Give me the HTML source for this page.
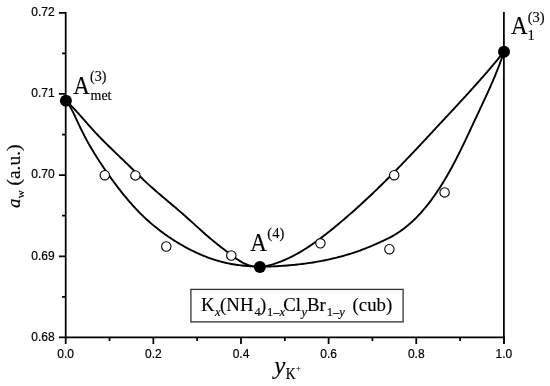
<!DOCTYPE html>
<html><head><meta charset="utf-8"><style>
html,body{margin:0;padding:0;background:#fff;}
body{width:550px;height:386px;overflow:hidden;}
svg{display:block;}
.sans{font-family:"Liberation Sans",Arial,sans-serif;font-size:12px;fill:#000;stroke:#000;stroke-width:0.2px;}
.serif{font-family:"Liberation Serif","Times New Roman",serif;fill:#000;stroke:#000;stroke-width:0.15px;}
</style></head><body>
<svg width="550" height="386" viewBox="0 0 550 386">
<rect width="550" height="386" fill="#fff"/>
<g fill="none" stroke="#000" stroke-width="1.75">
<path d="M65.70,12.00 V338.20"/>
<path d="M64.90,337.40 H504.70"/>
<path d="M503.90,12.00 V344.00"/>
<path d="M58.90,337.40 H65.70 M58.90,256.25 H65.70 M58.90,175.10 H65.70 M58.90,93.95 H65.70 M58.90,12.80 H65.70 M62.10,296.82 H65.70 M62.10,215.67 H65.70 M62.10,134.52 H65.70 M62.10,53.37 H65.70 M65.70,337.40 V344.00 M153.34,337.40 V344.00 M240.98,337.40 V344.00 M328.62,337.40 V344.00 M416.26,337.40 V344.00 M503.90,337.40 V344.00 M109.52,337.40 V341.00 M197.16,337.40 V341.00 M284.80,337.40 V341.00 M372.44,337.40 V341.00 M460.08,337.40 V341.00"/>
</g>
<g fill="none" stroke="#000" stroke-width="1.9" stroke-linejoin="round">
<path d="M65.90,100.70 L66.87,101.95 L67.80,103.22 L68.69,104.52 L69.53,105.84 L70.34,107.18 L71.11,108.54 L71.86,109.91 L72.58,111.29 L73.28,112.69 L73.97,114.09 L74.64,115.50 L75.30,116.91 L75.95,118.33 L76.61,119.75 L77.26,121.17 L77.92,122.58 L78.58,124.00 L79.25,125.41 L79.92,126.81 L80.60,128.22 L81.28,129.62 L81.97,131.02 L82.67,132.41 L83.37,133.80 L84.08,135.19 L84.80,136.58 L85.53,137.96 L86.27,139.34 L87.01,140.72 L87.77,142.09 L88.53,143.46 L89.31,144.82 L90.09,146.18 L90.88,147.54 L91.68,148.89 L92.48,150.24 L93.29,151.59 L94.11,152.93 L94.94,154.27 L95.77,155.60 L96.61,156.93 L97.45,158.26 L98.30,159.58 L99.15,160.90 L100.01,162.21 L100.87,163.52 L101.74,164.82 L102.61,166.12 L103.48,167.42 L104.36,168.71 L105.24,170.00 L106.13,171.28 L107.02,172.56 L107.91,173.83 L108.81,175.10 L109.71,176.37 L110.62,177.64 L111.53,178.90 L112.45,180.16 L113.37,181.41 L114.30,182.67 L115.23,183.92 L116.17,185.16 L117.12,186.41 L118.07,187.65 L119.03,188.89 L119.99,190.13 L120.96,191.36 L121.94,192.60 L122.92,193.82 L123.91,195.05 L124.91,196.27 L125.91,197.48 L126.92,198.69 L127.94,199.90 L128.96,201.10 L129.99,202.29 L131.03,203.48 L132.08,204.66 L133.13,205.83 L134.19,206.99 L135.26,208.15 L136.34,209.30 L137.42,210.44 L138.51,211.57 L139.61,212.69 L140.72,213.80 L141.83,214.91 L142.96,216.00 L144.09,217.08 L145.23,218.15 L146.38,219.22 L147.53,220.27 L148.69,221.31 L149.87,222.34 L151.05,223.36 L152.23,224.38 L153.43,225.38 L154.63,226.37 L155.84,227.36 L157.06,228.33 L158.29,229.29 L159.52,230.25 L160.76,231.19 L162.01,232.13 L163.27,233.05 L164.54,233.97 L165.81,234.87 L167.09,235.77 L168.38,236.66 L169.67,237.53 L170.98,238.40 L172.29,239.26 L173.61,240.11 L174.93,240.95 L176.27,241.78 L177.61,242.60 L178.96,243.41 L180.31,244.21 L181.68,245.01 L183.05,245.79 L184.43,246.56 L185.81,247.32 L187.20,248.08 L188.60,248.82 L190.01,249.54 L191.42,250.26 L192.84,250.97 L194.26,251.66 L195.69,252.34 L197.13,253.01 L198.57,253.66 L200.02,254.30 L201.47,254.93 L202.93,255.54 L204.39,256.13 L205.86,256.71 L207.34,257.28 L208.82,257.83 L210.30,258.36 L211.79,258.88 L213.28,259.38 L214.78,259.87 L216.28,260.33 L217.78,260.78 L219.29,261.21 L220.80,261.62 L222.32,262.01 L223.83,262.39 L225.36,262.74 L226.88,263.08 L228.41,263.40 L229.94,263.70 L231.48,263.99 L233.01,264.26 L234.55,264.51 L236.10,264.74 L237.64,264.96 L239.19,265.17 L240.74,265.36 L242.29,265.53 L243.85,265.69 L245.40,265.84 L246.96,265.97 L248.52,266.09 L250.08,266.19 L251.65,266.28 L253.21,266.36 L254.78,266.42 L256.35,266.48 L257.91,266.52 L259.48,266.55 L261.05,266.57 L262.63,266.57 L264.20,266.57 L265.77,266.56 L267.35,266.53 L268.92,266.50 L270.50,266.46 L272.07,266.40 L273.65,266.34 L275.22,266.27 L276.80,266.19 L278.37,266.11 L279.95,266.01 L281.52,265.91 L283.10,265.80 L284.67,265.69 L286.24,265.56 L287.81,265.44 L289.39,265.30 L290.96,265.16 L292.53,265.01 L294.10,264.86 L295.66,264.69 L297.23,264.53 L298.80,264.35 L300.36,264.17 L301.92,263.98 L303.49,263.78 L305.05,263.58 L306.61,263.37 L308.16,263.15 L309.72,262.92 L311.28,262.69 L312.83,262.44 L314.38,262.19 L315.93,261.93 L317.48,261.67 L319.03,261.39 L320.57,261.11 L322.11,260.82 L323.65,260.52 L325.19,260.21 L326.73,259.89 L328.26,259.57 L329.79,259.23 L331.32,258.89 L332.85,258.53 L334.37,258.17 L335.89,257.80 L337.41,257.42 L338.93,257.03 L340.45,256.63 L341.96,256.22 L343.47,255.80 L344.97,255.37 L346.48,254.94 L347.98,254.49 L349.47,254.03 L350.97,253.56 L352.46,253.08 L353.95,252.59 L355.43,252.09 L356.91,251.58 L358.39,251.06 L359.87,250.53 L361.34,249.99 L362.80,249.43 L364.27,248.87 L365.73,248.30 L367.19,247.71 L368.65,247.12 L370.10,246.52 L371.56,245.92 L373.01,245.30 L374.46,244.69 L375.91,244.06 L377.35,243.43 L378.80,242.79 L380.24,242.14 L381.68,241.49 L383.12,240.83 L384.54,240.15 L385.97,239.46 L387.38,238.76 L388.79,238.05 L390.18,237.32 L391.57,236.57 L392.94,235.80 L394.30,235.02 L395.64,234.21 L396.98,233.39 L398.29,232.54 L399.59,231.67 L400.88,230.78 L402.15,229.87 L403.41,228.94 L404.65,228.00 L405.88,227.03 L407.09,226.05 L408.29,225.05 L409.48,224.03 L410.66,222.99 L411.82,221.94 L412.96,220.87 L414.10,219.79 L415.22,218.70 L416.33,217.59 L417.43,216.46 L418.51,215.33 L419.59,214.18 L420.65,213.02 L421.70,211.84 L422.73,210.66 L423.76,209.46 L424.77,208.26 L425.78,207.04 L426.77,205.82 L427.75,204.59 L428.72,203.35 L429.69,202.10 L430.64,200.84 L431.58,199.58 L432.51,198.31 L433.43,197.04 L434.34,195.76 L435.24,194.47 L436.14,193.18 L437.02,191.88 L437.90,190.57 L438.76,189.27 L439.62,187.95 L440.47,186.63 L441.31,185.31 L442.15,183.98 L442.97,182.64 L443.79,181.30 L444.60,179.96 L445.41,178.61 L446.20,177.26 L446.99,175.90 L447.78,174.54 L448.55,173.17 L449.32,171.81 L450.09,170.43 L450.85,169.06 L451.60,167.68 L452.35,166.29 L453.09,164.91 L453.83,163.52 L454.56,162.13 L455.29,160.73 L456.01,159.33 L456.73,157.93 L457.44,156.53 L458.15,155.12 L458.86,153.72 L459.56,152.31 L460.26,150.89 L460.95,149.48 L461.64,148.07 L462.33,146.65 L463.02,145.23 L463.70,143.81 L464.38,142.39 L465.06,140.97 L465.74,139.54 L466.41,138.12 L467.09,136.69 L467.76,135.27 L468.43,133.84 L469.10,132.42 L469.76,130.99 L470.43,129.56 L471.10,128.13 L471.76,126.71 L472.43,125.28 L473.09,123.85 L473.76,122.43 L474.43,121.00 L475.09,119.58 L475.76,118.15 L476.43,116.73 L477.10,115.31 L477.76,113.89 L478.43,112.47 L479.10,111.04 L479.77,109.62 L480.44,108.20 L481.10,106.78 L481.77,105.36 L482.44,103.94 L483.10,102.52 L483.76,101.10 L484.42,99.68 L485.08,98.26 L485.74,96.83 L486.40,95.41 L487.05,93.99 L487.70,92.56 L488.34,91.13 L488.99,89.70 L489.63,88.27 L490.27,86.84 L490.90,85.41 L491.53,83.97 L492.15,82.54 L492.78,81.10 L493.39,79.66 L494.00,78.21 L494.61,76.77 L495.21,75.32 L495.81,73.87 L496.40,72.41 L496.99,70.96 L497.57,69.50 L498.14,68.03 L498.71,66.57 L499.27,65.10 L499.83,63.62 L500.37,62.15 L500.91,60.67 L501.45,59.18 L501.97,57.69 L502.49,56.20 L503.00,54.71 L503.51,53.20 L504.00,51.70"/>
<path d="M65.90,100.70 L66.99,101.71 L68.07,102.73 L69.14,103.76 L70.19,104.79 L71.24,105.84 L72.28,106.90 L73.30,107.96 L74.32,109.03 L75.33,110.10 L76.33,111.18 L77.33,112.27 L78.32,113.36 L79.31,114.46 L80.29,115.56 L81.27,116.66 L82.24,117.76 L83.21,118.87 L84.18,119.98 L85.15,121.08 L86.12,122.19 L87.09,123.30 L88.06,124.40 L89.03,125.51 L90.00,126.61 L90.98,127.70 L91.96,128.80 L92.94,129.89 L93.93,130.98 L94.93,132.06 L95.93,133.13 L96.93,134.20 L97.94,135.27 L98.96,136.33 L99.98,137.38 L101.00,138.43 L102.03,139.48 L103.06,140.53 L104.10,141.57 L105.14,142.61 L106.19,143.64 L107.23,144.67 L108.28,145.70 L109.33,146.73 L110.39,147.76 L111.44,148.78 L112.50,149.80 L113.56,150.83 L114.62,151.85 L115.69,152.87 L116.75,153.89 L117.81,154.91 L118.88,155.93 L119.94,156.95 L121.01,157.97 L122.07,159.00 L123.13,160.02 L124.20,161.04 L125.26,162.07 L126.32,163.10 L127.38,164.13 L128.44,165.16 L129.50,166.20 L130.55,167.23 L131.61,168.26 L132.67,169.30 L133.73,170.33 L134.79,171.36 L135.85,172.40 L136.91,173.43 L137.97,174.46 L139.03,175.48 L140.10,176.51 L141.16,177.53 L142.23,178.55 L143.30,179.57 L144.38,180.58 L145.45,181.59 L146.53,182.60 L147.61,183.60 L148.70,184.60 L149.79,185.59 L150.88,186.58 L151.98,187.56 L153.07,188.54 L154.18,189.51 L155.28,190.48 L156.39,191.44 L157.50,192.40 L158.61,193.36 L159.73,194.32 L160.85,195.27 L161.96,196.22 L163.08,197.17 L164.21,198.12 L165.33,199.06 L166.45,200.01 L167.57,200.95 L168.70,201.90 L169.82,202.84 L170.94,203.78 L172.07,204.73 L173.19,205.68 L174.31,206.62 L175.43,207.57 L176.55,208.52 L177.66,209.48 L178.78,210.43 L179.89,211.39 L181.01,212.35 L182.11,213.32 L183.22,214.29 L184.32,215.26 L185.43,216.24 L186.52,217.22 L187.62,218.20 L188.71,219.19 L189.81,220.18 L190.90,221.17 L191.99,222.16 L193.08,223.15 L194.17,224.14 L195.25,225.13 L196.34,226.12 L197.43,227.11 L198.52,228.10 L199.61,229.08 L200.70,230.06 L201.79,231.04 L202.88,232.02 L203.98,232.99 L205.07,233.96 L206.17,234.92 L207.27,235.87 L208.37,236.82 L209.48,237.77 L210.59,238.70 L211.70,239.63 L212.82,240.55 L213.94,241.47 L215.07,242.38 L216.19,243.29 L217.33,244.19 L218.47,245.10 L219.61,246.00 L220.76,246.90 L221.92,247.80 L223.08,248.71 L224.25,249.62 L225.42,250.53 L226.60,251.44 L227.79,252.37 L228.99,253.29 L230.19,254.22 L231.41,255.15 L232.63,256.06 L233.85,256.97 L235.09,257.85 L236.34,258.72 L237.59,259.57 L238.86,260.38 L240.13,261.17 L241.42,261.91 L242.71,262.62 L244.02,263.28 L245.34,263.90 L246.67,264.46 L248.01,264.96 L249.36,265.40 L250.72,265.78 L252.10,266.09 L253.48,266.33 L254.88,266.50 L256.29,266.62 L257.70,266.67 L259.12,266.67 L260.55,266.62 L261.98,266.51 L263.42,266.35 L264.86,266.15 L266.30,265.91 L267.74,265.62 L269.18,265.30 L270.62,264.94 L272.05,264.54 L273.49,264.12 L274.91,263.66 L276.34,263.19 L277.75,262.69 L279.16,262.17 L280.56,261.63 L281.95,261.07 L283.33,260.50 L284.70,259.92 L286.06,259.32 L287.41,258.70 L288.76,258.08 L290.09,257.43 L291.42,256.78 L292.74,256.11 L294.05,255.42 L295.35,254.73 L296.65,254.02 L297.94,253.30 L299.22,252.57 L300.49,251.83 L301.76,251.07 L303.02,250.31 L304.27,249.53 L305.52,248.75 L306.76,247.95 L308.00,247.15 L309.23,246.34 L310.45,245.51 L311.67,244.68 L312.88,243.84 L314.09,243.00 L315.29,242.14 L316.49,241.28 L317.68,240.41 L318.87,239.54 L320.05,238.66 L321.23,237.77 L322.41,236.88 L323.58,235.98 L324.75,235.07 L325.91,234.17 L327.08,233.25 L328.24,232.34 L329.39,231.42 L330.54,230.49 L331.69,229.57 L332.84,228.64 L333.99,227.70 L335.13,226.77 L336.27,225.83 L337.41,224.89 L338.54,223.95 L339.68,223.00 L340.81,222.05 L341.93,221.10 L343.06,220.14 L344.18,219.18 L345.30,218.22 L346.42,217.26 L347.54,216.30 L348.65,215.33 L349.76,214.36 L350.87,213.38 L351.98,212.41 L353.09,211.43 L354.19,210.45 L355.29,209.47 L356.39,208.48 L357.49,207.49 L358.58,206.50 L359.67,205.51 L360.76,204.52 L361.85,203.52 L362.94,202.52 L364.02,201.52 L365.10,200.52 L366.18,199.51 L367.26,198.50 L368.34,197.49 L369.41,196.48 L370.48,195.47 L371.55,194.45 L372.62,193.44 L373.69,192.42 L374.75,191.40 L375.82,190.37 L376.88,189.35 L377.94,188.32 L378.99,187.29 L380.05,186.26 L381.10,185.23 L382.16,184.20 L383.21,183.16 L384.26,182.12 L385.30,181.08 L386.35,180.04 L387.39,179.00 L388.44,177.96 L389.48,176.91 L390.52,175.87 L391.56,174.82 L392.59,173.77 L393.63,172.72 L394.66,171.67 L395.70,170.61 L396.73,169.56 L397.76,168.50 L398.79,167.44 L399.82,166.39 L400.84,165.33 L401.87,164.27 L402.89,163.20 L403.92,162.14 L404.94,161.08 L405.96,160.01 L406.98,158.95 L408.00,157.88 L409.02,156.81 L410.04,155.74 L411.05,154.67 L412.07,153.60 L413.08,152.53 L414.10,151.46 L415.11,150.38 L416.12,149.31 L417.14,148.24 L418.15,147.16 L419.16,146.08 L420.17,145.01 L421.18,143.93 L422.19,142.85 L423.20,141.77 L424.20,140.70 L425.21,139.62 L426.22,138.54 L427.23,137.46 L428.23,136.38 L429.24,135.30 L430.24,134.21 L431.25,133.13 L432.26,132.05 L433.26,130.97 L434.27,129.89 L435.27,128.80 L436.27,127.72 L437.28,126.64 L438.28,125.56 L439.29,124.47 L440.29,123.39 L441.30,122.31 L442.30,121.22 L443.31,120.14 L444.31,119.06 L445.32,117.97 L446.32,116.89 L447.33,115.81 L448.33,114.73 L449.34,113.64 L450.34,112.56 L451.35,111.48 L452.35,110.39 L453.36,109.31 L454.36,108.23 L455.37,107.14 L456.37,106.06 L457.37,104.98 L458.38,103.89 L459.38,102.81 L460.38,101.72 L461.38,100.64 L462.38,99.55 L463.38,98.46 L464.38,97.37 L465.38,96.29 L466.38,95.20 L467.37,94.11 L468.37,93.02 L469.36,91.92 L470.36,90.83 L471.35,89.74 L472.34,88.64 L473.33,87.55 L474.32,86.45 L475.30,85.35 L476.29,84.26 L477.27,83.16 L478.26,82.05 L479.24,80.95 L480.22,79.85 L481.19,78.74 L482.17,77.64 L483.14,76.53 L484.11,75.42 L485.08,74.31 L486.05,73.20 L487.02,72.08 L487.98,70.97 L488.94,69.85 L489.90,68.73 L490.86,67.61 L491.82,66.48 L492.77,65.36 L493.72,64.23 L494.67,63.10 L495.61,61.97 L496.56,60.84 L497.50,59.71 L498.43,58.57 L499.37,57.43 L500.30,56.29 L501.23,55.15 L502.16,54.00 L503.08,52.85 L504.00,51.70"/>
</g>
<g fill="#fff" stroke="#000" stroke-width="1.1"><circle cx="104.8" cy="175.2" r="4.7"/><circle cx="135.4" cy="175.4" r="4.7"/><circle cx="166.3" cy="246.5" r="4.7"/><circle cx="231.3" cy="255.5" r="4.7"/><circle cx="320.4" cy="243.3" r="4.7"/><circle cx="389.4" cy="249.2" r="4.7"/><circle cx="394.2" cy="175.2" r="4.7"/><circle cx="444.6" cy="192.4" r="4.7"/></g>
<g fill="#000"><circle cx="65.9" cy="100.7" r="6.0"/><circle cx="259.9" cy="267.0" r="6.0"/><circle cx="504.0" cy="51.7" r="6.0"/></g>
<g class="sans"><text x="54.7" y="340.70" text-anchor="end">0.68</text><text x="54.7" y="259.55" text-anchor="end">0.69</text><text x="54.7" y="178.40" text-anchor="end">0.70</text><text x="54.7" y="97.25" text-anchor="end">0.71</text><text x="54.7" y="16.10" text-anchor="end">0.72</text><text x="65.70" y="357.6" text-anchor="middle">0.0</text><text x="153.34" y="357.6" text-anchor="middle">0.2</text><text x="240.98" y="357.6" text-anchor="middle">0.4</text><text x="328.62" y="357.6" text-anchor="middle">0.6</text><text x="416.26" y="357.6" text-anchor="middle">0.8</text><text x="503.90" y="357.6" text-anchor="middle">1.0</text></g>
<g class="serif"><text transform="translate(73.27,93.70) scale(1,1.13)" font-size="23">A</text>
<text x="90.10" y="80.90" font-size="14">(3)</text>
<text x="90.50" y="99.90" font-size="14">met</text>
<text transform="translate(250.17,251.20) scale(1,1.13)" font-size="23">A</text>
<text x="267.30" y="237.70" font-size="14.5">(4)</text>
<text transform="translate(511.07,33.90) scale(1,1.13)" font-size="23">A</text>
<text x="527.70" y="21.70" font-size="14.5">(3)</text>
<text x="527.60" y="39.50" font-size="14.5">1</text>
<g transform="translate(20,207.5) rotate(-90)"><text x="-0.40" y="0.00" font-size="19" font-style="italic">a</text><text x="9.30" y="3.80" font-size="11">w</text><text x="21.94" y="0.00" font-size="19.5">(a.u.)</text></g>
<text x="274.30" y="373.70" font-size="25" font-style="italic">y</text>
<text transform="translate(285.8,379) scale(1,1.18)" font-size="13.5">K</text>
<text x="296.10" y="371.10" font-size="8">+</text>
<text x="201.06" y="311.20" font-size="18.8">K</text>
<text x="215.05" y="316.20" font-size="12.5" font-style="italic">x</text>
<text x="220.07" y="311.20" font-size="18.8">(NH</text>
<text x="254.46" y="316.20" font-size="12.5">4</text>
<text x="259.99" y="311.20" font-size="18.8">)</text>
<text x="267" y="316.2" font-size="12.5">1–<tspan font-style="italic">x</tspan></text>
<text x="283.13" y="311.20" font-size="18.8">Cl</text>
<text x="301.44" y="316.20" font-size="12.5" font-style="italic">y</text>
<text x="307.06" y="311.20" font-size="18.8">Br</text>
<text x="326.7" y="316.2" font-size="12.5">1–<tspan font-style="italic">y</tspan></text>
<text x="352.57" y="311.20" font-size="18.8">(cub)</text></g>
<rect x="190.9" y="289.4" width="212.2" height="32.5" fill="none" stroke="#333" stroke-width="1.3"/>
</svg>
</body></html>
